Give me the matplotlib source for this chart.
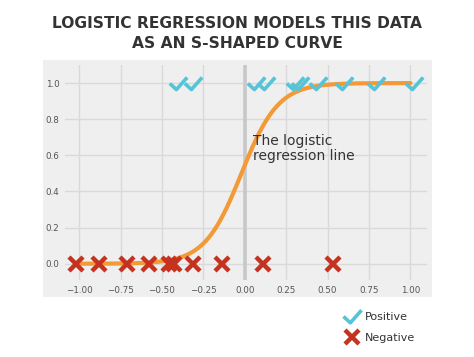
import numpy as np
import matplotlib
matplotlib.use('Agg')
from matplotlib import pyplot as plt
from matplotlib.path import Path
from matplotlib.patches import Rectangle
from matplotlib.lines import Line2D

# data
pos_x = [-0.40, -0.31, 0.07, 0.13, 0.305, 0.335, 0.445, 0.60, 0.79, 1.02]
neg_x = [-1.02, -0.88, -0.71, -0.58, -0.46, -0.43, -0.31, -0.14, 0.11, 0.53]
# fitted logistic model: p = 1 / (1 + exp(-(coef*x + intercept)))
coef = 9.0
intercept = 0.18
x_ticks = [-1.00, -0.75, -0.50, -0.25, 0.00, 0.25, 0.50, 0.75, 1.00]
y_ticks = [0.0, 0.2, 0.4, 0.6, 0.8, 1.0]

bg = '#efefef'
grid_c = '#d9d9d9'
pos_c = '#55c4d8'
neg_c = '#c5321f'
curve_c = '#f39a38'
text_c = '#333333'

check = Path([(-0.5, 0.0), (-0.12, -0.35), (0.5, 0.35)],
             [Path.MOVETO, Path.LINETO, Path.LINETO])

fig = plt.figure(figsize=(4.74, 3.57), dpi=100)
fig.patches.append(Rectangle((43/474, 1-297/357), (432-43)/474, (297-60)/357,
                             transform=fig.transFigure, facecolor=bg,
                             edgecolor='none', zorder=-1))

fig.text(0.5, 1-23/357, 'LOGISTIC REGRESSION MODELS THIS DATA', ha='center', va='center',
         fontsize=11.2, fontweight='bold', color=text_c)
fig.text(0.5, 1-43/357, 'AS AN S-SHAPED CURVE', ha='center', va='center',
         fontsize=11.2, fontweight='bold', color=text_c)

ax = fig.add_axes([65/474, 1-280/357, (427-65)/474, (280-65)/357])
ax.set_facecolor(bg)
for s in ax.spines.values():
    s.set_visible(False)
ax.grid(True, color=grid_c, linewidth=1)
ax.set_axisbelow(True)
ax.set_xlim(-1.085, 1.10)
ax.set_ylim(-0.09, 1.10)
ax.set_xticks(x_ticks)
ax.set_yticks(y_ticks)
ax.set_yticklabels(['%.1f' % v for v in y_ticks])
ax.xaxis.set_major_formatter(matplotlib.ticker.FuncFormatter(lambda v, p: ('%.2f' % v).replace('-', '\u2212')))
ax.tick_params(length=0, labelsize=6.3, labelcolor='#555555', pad=4)

ax.axvline(0, color='#c8c8c8', linewidth=2.6, zorder=1)

xs = np.linspace(-1, 1, 300)
ax.plot(xs, 1 / (1 + np.exp(-(coef * xs + intercept))), color=curve_c, linewidth=3, zorder=3,
        solid_capstyle='round')

ax.plot(neg_x, [0] * len(neg_x), linestyle='none', marker='x', markersize=10,
        markeredgewidth=3.2, color=neg_c, zorder=4)
ax.plot(pos_x, [1] * len(pos_x), linestyle='none', marker=check, markersize=12.5,
        markerfacecolor='none', markeredgewidth=2.6, markeredgecolor=pos_c, zorder=4)

ax.text(0.05, 0.72, 'The logistic\nregression line', ha='left', va='top', fontsize=10,
        color=text_c, linespacing=1.15)

handles = [Line2D([], [], linestyle='none', marker=check, markersize=13, markerfacecolor='none',
                  markeredgewidth=2.6, markeredgecolor=pos_c),
           Line2D([], [], linestyle='none', marker='x', markersize=10, markeredgewidth=3.2,
                  color=neg_c)]
fig.legend(handles, ['Positive', 'Negative'], loc='upper left',
           bbox_to_anchor=(338/474, 1-306/357), frameon=False, fontsize=8,
           labelcolor=text_c, handletextpad=0.4, labelspacing=1.0, borderpad=0,
           handlelength=1.5)

fig.savefig('out.png', dpi=100, facecolor='white')
